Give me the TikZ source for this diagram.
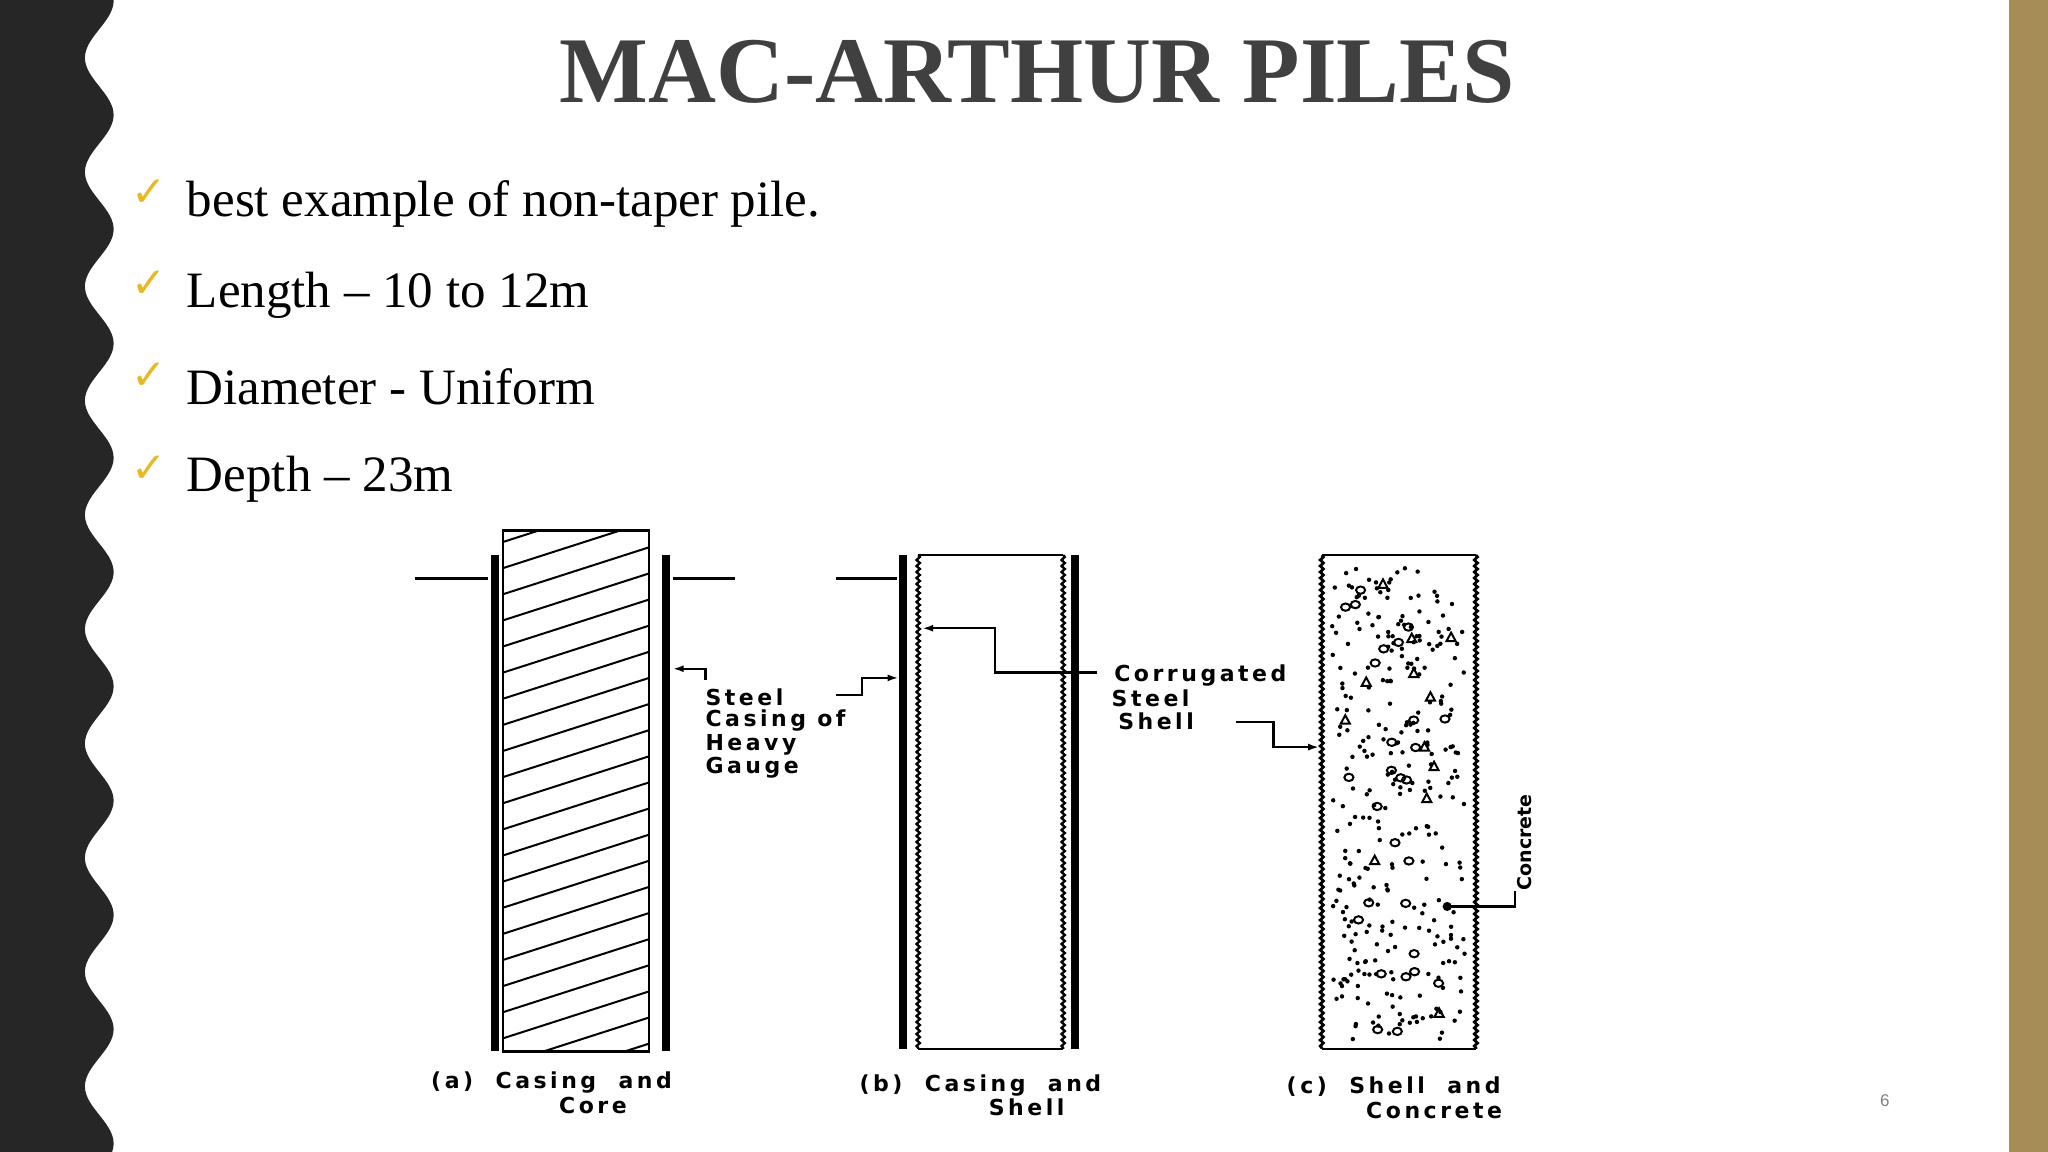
\documentclass[tikz,border=0pt]{standalone}
\usepackage{fontspec}
\setmainfont{Liberation Serif}
\newfontfamily\lbl[LetterSpace=16]{DejaVu Sans Bold}
\newfontfamily\lblc{DejaVu Sans Bold}
\newfontfamily\djv{DejaVu Sans}
\usetikzlibrary{decorations.pathmorphing,arrows.meta}
\definecolor{darkstrip}{HTML}{262626}
\definecolor{goldstrip}{HTML}{A58D55}
\definecolor{checkc}{HTML}{E8B923}
\definecolor{titlec}{HTML}{404040}
\tikzset{
  casing/.style={line width=8pt},
  thin/.style={line width=2.6pt},
  corr/.style={line width=2.4pt,decorate,decoration={snake,amplitude=1.6pt,segment length=6pt}},
  leader/.style={line width=2.4pt},
  arr/.style={leader,-{Latex[length=11pt,width=7pt]}},
  lab/.style={font=\lbl\fontsize{22}{24}\selectfont,anchor=west,inner sep=0pt},
  bullet/.style={font=\fontsize{51}{56}\selectfont,anchor=west,inner sep=0pt},
  chk/.style={font=\djv\bfseries\fontsize{42}{44}\selectfont,text=checkc,inner sep=0pt},
}
\begin{document}
\begin{tikzpicture}[x=1.306pt,y=-1.306pt]
\useasboundingbox (0,0) rectangle (1568,882);
\fill[white] (0,0) rectangle (1568,882);
% left strip
\fill[darkstrip] (0,0) -- plot[domain=0:882,samples=300,smooth] ({76+11*cos(4.1143*(\x-88))},\x) -- (0,882) -- cycle;
% right strip
\fill[goldstrip] (1538,0) rectangle (1568,882);
% title
\node[font=\bfseries\fontsize{94}{100}\selectfont,text=titlec,inner sep=0pt] (title) at (794,55) {MAC-ARTHUR PILES};
% bullets
\foreach \t/\y [count=\i] in {best example of non-taper pile./156, Length -- 10 to 12m/226, Diameter - Uniform/296, Depth -- 23m/367}{
  \node[chk] (c\i) at (114,\y-8) {✓};
  \node[bullet] (b\i) at (143,\y) {\t};
}
% ---------- pile a
\begin{scope}
\clip (385,406) rectangle (497,805);
\foreach \yy in {395,415,...,880} \draw[line width=2pt] (385,\yy) -- (497,\yy-36);
\end{scope}
\draw[thin] (385,406) rectangle (497,805);
\draw[casing] (379,425) -- (379,805);
\draw[casing] (510,425) -- (510,805);
\draw[thin] (318,443) -- (374,443);
\draw[thin] (515,443) -- (563,443);
\coordinate (aa) at (540,521);
\draw[arr] (aa) -- (540,512) -- (515,512);
\node[lab] (la1) at (540,534) {Steel};
\node[lab] (la2) at (540,552) {Casing of};
\node[lab] (la3) at (540,570) {Heavy};
\node[lab] (la4) at (540,588) {Gauge};
% ---------- pile b
\draw[casing] (691,425) -- (691,803);
\draw[casing] (823,425) -- (823,803);
\draw[corr] (703,425) -- (703,803);
\draw[corr] (814,425) -- (814,803);
\draw[thin] (703,425) -- (814,425);
\draw[thin] (703,803) -- (814,803);
\draw[thin] (640,443) -- (687,443);
\coordinate (bb1) at (640,532);
\draw[arr] (bb1) -- (660,532) -- (660,519) -- (688,519);
\coordinate (bb2) at (840,515);
\draw[arr] (bb2) -- (762,515) -- (762,481) -- (706,481);
\node[lab] (lb1) at (853,517) {Corrugated};
\node[lab] (lb2) at (851,535) {Steel};
\node[lab] (lb3) at (856,552) {Shell};
\coordinate (cc1) at (946,553);
\draw[arr] (cc1) -- (975,553) -- (975,572) -- (1010,572);
% ---------- pile c
\draw[thin] (1012,425) -- (1130,425);
\draw[thin] (1012,803) -- (1130,803);
\draw[corr,line width=2.8pt] (1012,425) -- (1012,803);
\draw[corr,line width=2.8pt] (1130,425) -- (1130,803);
\pgfmathsetseed{7}
\foreach \k in {1,...,300}{
  \pgfmathsetmacro\px{1020+rnd*102}
  \pgfmathsetmacro\py{432+rnd*364}
  \fill (\px,\py) circle (1.7);
}
\foreach \k in {1,...,28}{
  \pgfmathsetmacro\px{1025+rnd*92}
  \pgfmathsetmacro\py{440+rnd*350}
  \draw[line width=2pt] (\px,\py) ellipse (3.5 and 2.8);
}
\foreach \k in {1,...,12}{
  \pgfmathsetmacro\px{1025+rnd*92}
  \pgfmathsetmacro\py{440+rnd*350}
  \draw[line width=2pt] (\px-3.5,\py+3) -- (\px,\py-3.5) -- (\px+3.5,\py+3) -- cycle;
}
\fill (1108,694) circle (3.5);
\coordinate (cd) at (1108,694);
\draw[leader] (cd) -- (1160,694) -- (1160,682);
\node[rotate=90,anchor=center,inner sep=0pt,font=\lblc\fontsize{19}{21}\selectfont] (lc) at (1167,645) {Concrete};
% captions
\node[lab] (ca1) at (330,829) {(a)\ \ Casing\ \ and};
\node[lab,anchor=center] (ca2) at (454,846) {Core};
\node[lab] (cb1) at (658,831) {(b)\ \ Casing\ \ and};
\node[lab,anchor=center] (cb2) at (786,848) {Shell};
\node[lab] (cc1t) at (985,832) {(c)\ \ Shell\ \ and};
\node[lab,anchor=center] (cc2) at (1098,850) {Concrete};
\node[font=\fontspec{Liberation Sans}\fontsize{17}{18}\selectfont,text=gray] (pg) at (1443,843) {6};
\end{tikzpicture}
\end{document}
